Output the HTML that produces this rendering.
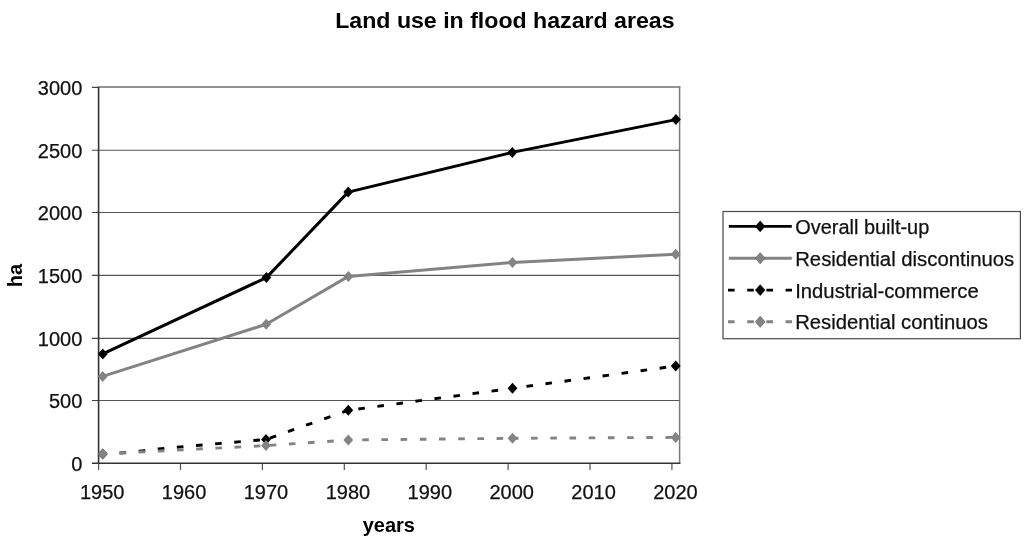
<!DOCTYPE html>
<html lang="en">
<head>
<meta charset="utf-8">
<title>Land use in flood hazard areas</title>
<style>
html,body{margin:0;padding:0;background:#fff;}
body{width:1024px;height:542px;overflow:hidden;}
svg{display:block;filter:blur(0.4px);}
</style>
</head>
<body>
<svg width="1024" height="542" viewBox="0 0 1024 542">
<rect width="1024" height="542" fill="#fff"/>
<path d="M98.6 87.0H680.4" stroke="#939393" stroke-width="2.1"/>
<path d="M679.6 87.0V463.3" stroke="#7a7a7a" stroke-width="1.5"/>
<path d="M98.6 150.3H679.6" stroke="#555" stroke-width="1.1"/>
<path d="M98.6 212.45H679.6" stroke="#555" stroke-width="1.1"/>
<path d="M98.6 275.4H679.6" stroke="#555" stroke-width="1.1"/>
<path d="M98.6 338.4H679.6" stroke="#555" stroke-width="1.1"/>
<path d="M98.6 400.45H679.6" stroke="#555" stroke-width="1.1"/>
<path d="M91.9 87.4H98.6M91.9 150.3H98.6M91.9 212.45H98.6M91.9 275.4H98.6M91.9 338.4H98.6M91.9 400.45H98.6" stroke="#444" stroke-width="1.1"/>
<path d="M98.6 463.3V470.1M180.5 463.3V470.1M262.4 463.3V470.1M344.3 463.3V470.1M426.2 463.3V470.1M508.1 463.3V470.1M590.0 463.3V470.1M671.9 463.3V470.1" stroke="#555" stroke-width="1.2"/>
<path d="M98.6 86.8V463.3" stroke="#333" stroke-width="1.6"/>
<path d="M91.9 463.3H680.4" stroke="#333" stroke-width="1.4"/>
<g>
<path d="M102.8 353.9L266.4 277.6L348.2 192.1L512.3 152.4L675.9 119.6" fill="none" stroke="#000" stroke-width="3.0" stroke-linejoin="round"/><path d="M97.9 353.9L102.8 348.4L107.7 353.9L102.8 359.4Z" fill="#000"/><path d="M261.5 277.6L266.4 272.1L271.3 277.6L266.4 283.1Z" fill="#000"/><path d="M343.3 192.1L348.2 186.6L353.1 192.1L348.2 197.6Z" fill="#000"/><path d="M507.4 152.4L512.3 146.9L517.2 152.4L512.3 157.9Z" fill="#000"/><path d="M671.0 119.6L675.9 114.1L680.8 119.6L675.9 125.1Z" fill="#000"/>
<path d="M102.7 376.4L266.2 324.3L348.4 276.4L512.5 262.4L675.7 254.2" fill="none" stroke="#838383" stroke-width="3.0" stroke-linejoin="round"/><path d="M97.8 376.4L102.7 370.9L107.6 376.4L102.7 381.9Z" fill="#838383"/><path d="M261.3 324.3L266.2 318.8L271.1 324.3L266.2 329.8Z" fill="#838383"/><path d="M343.5 276.4L348.4 270.9L353.3 276.4L348.4 281.9Z" fill="#838383"/><path d="M507.6 262.4L512.5 256.9L517.4 262.4L512.5 267.9Z" fill="#838383"/><path d="M670.8 254.2L675.7 248.7L680.6 254.2L675.7 259.7Z" fill="#838383"/>
<path d="M102.7 453.9L122.8 452.8L142.2 450.9L161.4 448.6L266.0 439.4" fill="none" stroke="#000" stroke-width="2.9" stroke-dasharray="6.6 12.6" stroke-dashoffset="-16.88"/><path d="M266.0 439.4L348.3 410.3" fill="none" stroke="#000" stroke-width="2.9" stroke-dasharray="6.6 12.6" stroke-dashoffset="-4.12"/><path d="M348.3 410.3L512.5 388.3" fill="none" stroke="#000" stroke-width="2.9" stroke-dasharray="6.6 12.6" stroke-dashoffset="-10.12"/><path d="M512.5 388.3L675.7 366.0" fill="none" stroke="#000" stroke-width="2.9" stroke-dasharray="6.6 12.6" stroke-dashoffset="-14.06"/><path d="M97.8 453.9L102.7 448.4L107.6 453.9L102.7 459.4Z" fill="#000"/><path d="M261.1 439.4L266.0 433.9L270.9 439.4L266.0 444.9Z" fill="#000"/><path d="M343.4 410.3L348.3 404.8L353.2 410.3L348.3 415.8Z" fill="#000"/><path d="M507.6 388.3L512.5 382.8L517.4 388.3L512.5 393.8Z" fill="#000"/><path d="M670.8 366.0L675.7 360.5L680.6 366.0L675.7 371.5Z" fill="#000"/>
<path d="M102.7 453.9L266.0 445.6" fill="none" stroke="#838383" stroke-width="2.9" stroke-dasharray="6.6 12.6" stroke-dashoffset="-16.83"/><path d="M266.0 445.6L348.3 440.0" fill="none" stroke="#838383" stroke-width="2.9" stroke-dasharray="6.6 12.6" stroke-dashoffset="-3.72"/><path d="M348.3 440.0L512.5 438.3" fill="none" stroke="#838383" stroke-width="2.9" stroke-dasharray="6.6 12.6" stroke-dashoffset="-13.90"/><path d="M512.5 438.3L675.7 437.4" fill="none" stroke="#838383" stroke-width="2.9" stroke-dasharray="6.6 12.6" stroke-dashoffset="-18.60"/><path d="M97.8 453.9L102.7 448.4L107.6 453.9L102.7 459.4Z" fill="#838383"/><path d="M261.1 445.6L266.0 440.1L270.9 445.6L266.0 451.1Z" fill="#838383"/><path d="M343.4 440.0L348.3 434.5L353.2 440.0L348.3 445.5Z" fill="#838383"/><path d="M507.6 438.3L512.5 432.8L517.4 438.3L512.5 443.8Z" fill="#838383"/><path d="M670.8 437.4L675.7 431.9L680.6 437.4L675.7 442.9Z" fill="#838383"/>
</g>
<g font-family="'Liberation Sans', Arial, sans-serif" font-size="20" fill="#111" stroke="#111" stroke-width="0.25">
<text x="82.3" y="94.7" text-anchor="end">3000</text>
<text x="82.3" y="157.6" text-anchor="end">2500</text>
<text x="82.3" y="219.8" text-anchor="end">2000</text>
<text x="82.3" y="282.7" text-anchor="end">1500</text>
<text x="82.3" y="345.7" text-anchor="end">1000</text>
<text x="82.3" y="407.8" text-anchor="end">500</text>
<text x="82.3" y="470.6" text-anchor="end">0</text>
<text x="102.2" y="499.3" text-anchor="middle">1950</text>
<text x="184.1" y="499.3" text-anchor="middle">1960</text>
<text x="266.0" y="499.3" text-anchor="middle">1970</text>
<text x="347.9" y="499.3" text-anchor="middle">1980</text>
<text x="429.8" y="499.3" text-anchor="middle">1990</text>
<text x="511.7" y="499.3" text-anchor="middle">2000</text>
<text x="593.6" y="499.3" text-anchor="middle">2010</text>
<text x="675.5" y="499.3" text-anchor="middle">2020</text>
<text x="335.2" y="27.5" font-weight="bold" font-size="22" fill="#000" stroke="none" textLength="339.4" lengthAdjust="spacingAndGlyphs">Land use in flood hazard areas</text>
<text x="388.8" y="532.3" text-anchor="middle" font-weight="bold" fill="#000" stroke="none">years</text>
<text transform="translate(22 275.6) rotate(-90)" text-anchor="middle" font-weight="bold" fill="#000" stroke="none">ha</text>
<rect x="723" y="211.5" width="297.4" height="127.2" fill="#fff" stroke="#4a4a4a" stroke-width="1.2"/>
<path d="M728.8 226.4H791.8" stroke="#000" stroke-width="2.9"/>
<path d="M755.2 226.4L760.2 220.7L765.2 226.4L760.2 232.1Z" fill="#000"/>
<text x="795.2" y="233.9" textLength="134.1" lengthAdjust="spacingAndGlyphs">Overall built-up</text>
<path d="M728.8 258.2H791.8" stroke="#838383" stroke-width="2.9"/>
<path d="M755.2 258.2L760.2 252.5L765.2 258.2L760.2 263.9Z" fill="#838383"/>
<text x="795.2" y="265.7" textLength="219.0" lengthAdjust="spacingAndGlyphs">Residential discontinuos</text>
<path d="M728 290.1H792" stroke="#000" stroke-width="2.9" stroke-dasharray="6.6 12.6"/>
<path d="M755.2 290.1L760.2 284.4L765.2 290.1L760.2 295.8Z" fill="#000"/>
<text x="795.2" y="297.6" textLength="183.6" lengthAdjust="spacingAndGlyphs">Industrial-commerce</text>
<path d="M728 321.8H792" stroke="#838383" stroke-width="2.9" stroke-dasharray="6.6 12.6"/>
<path d="M755.2 321.8L760.2 316.1L765.2 321.8L760.2 327.5Z" fill="#838383"/>
<text x="795.2" y="329.3" textLength="192.7" lengthAdjust="spacingAndGlyphs">Residential continuos</text>
</g>
</svg>
</body>
</html>
